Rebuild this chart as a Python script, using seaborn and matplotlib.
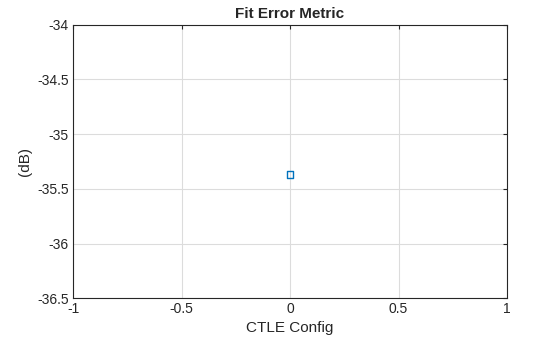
import matplotlib
matplotlib.use("Agg")
import matplotlib.pyplot as plt
import seaborn as sns
import pandas as pd

# Fit error per CTLE configuration
ctle_config = [0]
fit_error_db = [-35.37]

x_ticks = [-1, -0.5, 0, 0.5, 1]
x_tick_labels = ["-1", "-0.5", "0", "0.5", "1"]
y_ticks = [-36.5, -36, -35.5, -35, -34.5, -34]
y_tick_labels = ["-36.5", "-36", "-35.5", "-35", "-34.5", "-34"]

sns.set_style("white")
plt.rcParams["font.family"] = ["Liberation Sans", "DejaVu Sans"]

df = pd.DataFrame({"config": ctle_config, "error": fit_error_db})

fig = plt.figure(figsize=(5.6, 3.37), dpi=100)
ax = fig.add_axes([73 / 560, 1 - 298.3 / 337, (507 - 73) / 560, (298.3 - 24.7) / 337])

sns.scatterplot(data=df, x="config", y="error", ax=ax, marker="s", s=22,
                facecolors="none", edgecolor="#0072BD", linewidth=1.0, zorder=3)

ax.set_xlim(-1, 1)
ax.set_ylim(-36.5, -34)
ax.set_xticks(x_ticks)
ax.set_xticklabels(x_tick_labels)
ax.set_yticks(y_ticks)
ax.set_yticklabels(y_tick_labels)

ax.grid(True, color="#dcdcdc", linewidth=0.8)
ax.set_axisbelow(True)
for sp in ax.spines.values():
    sp.set_color("#262626")
    sp.set_linewidth(0.8)
    sp.set_visible(True)

ax.tick_params(axis="both", direction="in", length=3, width=0.8, color="#262626",
               labelsize=10, labelcolor="#262626", top=True, right=True, pad=3)

ax.set_xlabel("CTLE Config", fontsize=11, color="#262626", labelpad=3)
ax.set_ylabel("(dB)", fontsize=11, color="#262626", labelpad=4)
ax.set_title("Fit Error Metric", fontsize=11, fontweight="bold", color="#262626", pad=5)

fig.savefig("out.png", dpi=100)
